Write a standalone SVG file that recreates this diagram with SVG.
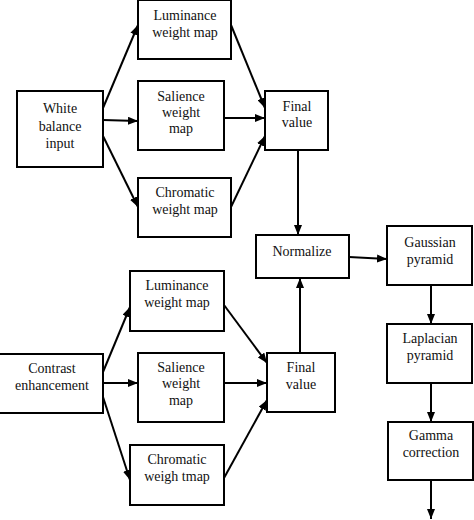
<svg xmlns="http://www.w3.org/2000/svg" width="474" height="520" viewBox="0 0 474 520">
<defs>
<style>
.box{fill:#fff;stroke:#000;stroke-width:2}
.t{font-family:"Liberation Serif","Times New Roman",serif;font-size:14px;fill:#111;text-anchor:middle}
.c{stroke:#000;stroke-width:2;fill:none;marker-end:url(#ah)}
</style>
<marker id="ah" viewBox="0 0 10 8" refX="10" refY="4" markerWidth="10" markerHeight="8" markerUnits="userSpaceOnUse" orient="auto">
<path d="M0,0 L10,4 L0,8 Z" fill="#000"/>
</marker>
</defs>
<rect width="474" height="520" fill="#fff"/>
<g id="connectors">
<line class="c" x1="103" y1="108" x2="138" y2="25"/>
<line class="c" x1="103" y1="120" x2="138" y2="121"/>
<line class="c" x1="103" y1="136" x2="138" y2="207"/>
<line class="c" x1="231" y1="25" x2="265" y2="108"/>
<line class="c" x1="224" y1="118" x2="265" y2="118"/>
<line class="c" x1="231" y1="207" x2="265" y2="136"/>
<line class="c" x1="298" y1="150" x2="298" y2="235"/>
<line class="c" x1="349" y1="257" x2="387" y2="259"/>
<line class="c" x1="431" y1="285" x2="431" y2="324"/>
<line class="c" x1="431" y1="383" x2="431" y2="422"/>
<line class="c" x1="431" y1="480" x2="431" y2="519"/>
<line class="c" x1="300" y1="353" x2="300" y2="278"/>
<line class="c" x1="103" y1="372" x2="130" y2="307"/>
<line class="c" x1="103" y1="383" x2="138" y2="383"/>
<line class="c" x1="103" y1="397" x2="130" y2="480"/>
<line class="c" x1="224" y1="305" x2="267" y2="363"/>
<line class="c" x1="224" y1="383" x2="267" y2="383"/>
<line class="c" x1="224" y1="478" x2="267" y2="400"/>
</g>
<g id="white-balance"><rect class="box" x="17" y="91" width="86" height="76"/><text class="t" x="60" y="113">White</text><text class="t" x="60" y="131">balance</text><text class="t" x="60" y="148">input</text></g>
<g id="luminance1"><rect class="box" x="138" y="0" width="93" height="59"/><text class="t" x="185" y="20">Luminance</text><text class="t" x="185" y="37">weight map</text></g>
<g id="salience1"><rect class="box" x="138" y="81" width="86" height="69"/><text class="t" x="181" y="101">Salience</text><text class="t" x="181" y="117">weight</text><text class="t" x="181" y="133">map</text></g>
<g id="chromatic1"><rect class="box" x="138" y="178" width="93" height="59"/><text class="t" x="185" y="197">Chromatic</text><text class="t" x="185" y="214">weight map</text></g>
<g id="final1"><rect class="box" x="265" y="91" width="63" height="59"/><text class="t" x="297" y="111">Final</text><text class="t" x="297" y="127">value</text></g>
<g id="normalize"><rect class="box" x="256" y="235" width="93" height="43"/><text class="t" x="302" y="256">Normalize</text></g>
<g id="gaussian"><rect class="box" x="387" y="226" width="85" height="59"/><text class="t" x="430" y="247">Gaussian</text><text class="t" x="430" y="264">pyramid</text></g>
<g id="laplacian"><rect class="box" x="387" y="324" width="85" height="59"/><text class="t" x="430" y="343">Laplacian</text><text class="t" x="430" y="360">pyramid</text></g>
<g id="gamma"><rect class="box" x="388" y="422" width="85" height="58"/><text class="t" x="431" y="440">Gamma</text><text class="t" x="431" y="457">correction</text></g>
<g id="contrast"><rect class="box" x="-1" y="354" width="104" height="59"/><text class="t" x="52" y="373">Contrast</text><text class="t" x="52" y="390">enhancement</text></g>
<g id="luminance2"><rect class="box" x="130" y="271" width="94" height="60"/><text class="t" x="177" y="290">Luminance</text><text class="t" x="177" y="307">weight map</text></g>
<g id="salience2"><rect class="box" x="138" y="353" width="86" height="69"/><text class="t" x="181" y="372">Salience</text><text class="t" x="181" y="388">weight</text><text class="t" x="181" y="405">map</text></g>
<g id="chromatic2"><rect class="box" x="130" y="445" width="94" height="60"/><text class="t" x="177" y="464">Chromatic</text><text class="t" x="177" y="481">weigh tmap</text></g>
<g id="final2"><rect class="box" x="267" y="353" width="68" height="59"/><text class="t" x="301" y="372">Final</text><text class="t" x="301" y="389">value</text></g>
</svg>
